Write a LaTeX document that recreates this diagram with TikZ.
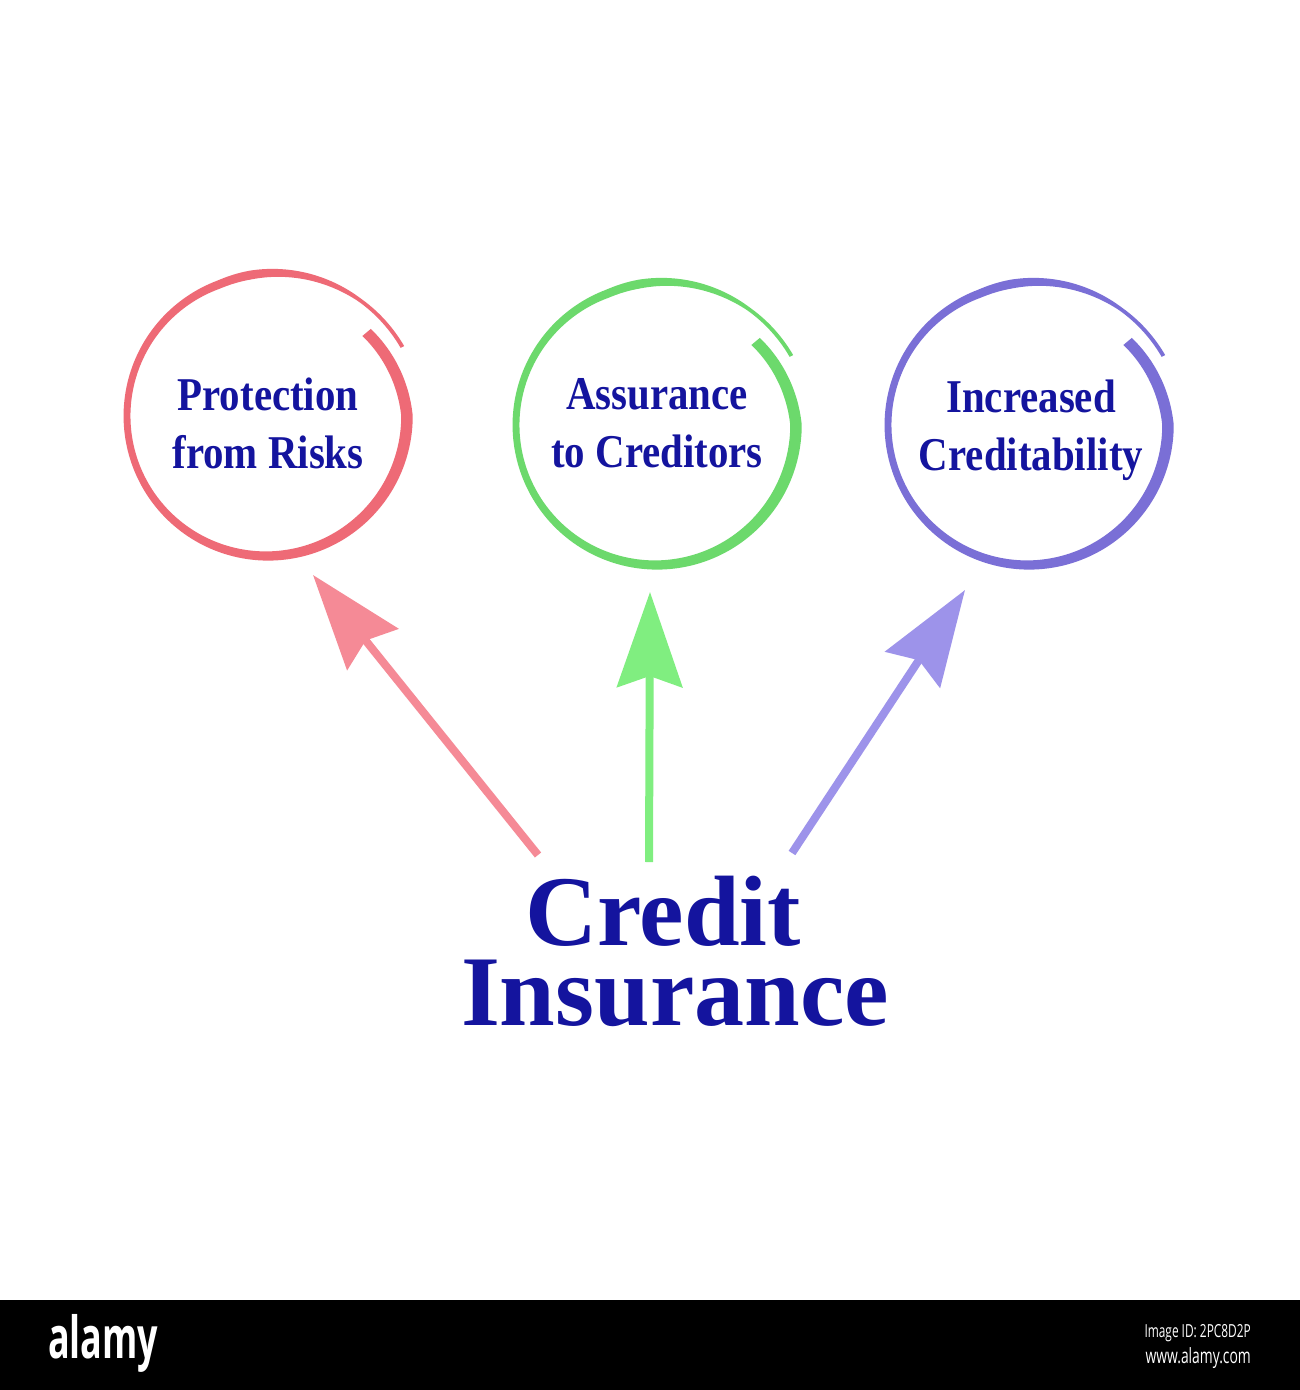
\documentclass[tikz,border=0pt]{standalone}
\usepackage{fontspec}
\setmainfont{Liberation Serif}
\newfontfamily\condserif[FakeStretch=0.87]{Liberation Serif}
\newfontfamily\logofont[FakeStretch=0.62]{Open Sans}
\newfontfamily\smallsans[FakeStretch=0.66]{Open Sans}
\usetikzlibrary{arrows.meta,calc}
\definecolor{txtblue}{RGB}{20,20,158}
\definecolor{ringred}{RGB}{238,106,118}
\definecolor{ringgreen}{RGB}{108,217,108}
\definecolor{ringblue}{RGB}{122,111,214}
\definecolor{arrred}{RGB}{245,138,150}
\definecolor{arrgreen}{RGB}{128,238,128}
\definecolor{arrblue}{RGB}{157,147,234}
\tikzset{
  declare function={
    rr(\t)=140-10*max(0,\t/40)+12*max(0,(-\t-250)/83);
    ww(\t)=(9.2+2.3*cos(\t))*min(1,max(0.35,(\t+333)/70));
  },
  ring/.pic={
    \fill[pic actions] plot[domain=40:-333,samples=220]
      ({(rr(\x)+ww(\x)/2)*cos(\x)},{-(rr(\x)+ww(\x)/2)*sin(\x)})
      -- plot[domain=-333:40,samples=220]
      ({(rr(\x)-ww(\x)/2)*cos(\x)},{-(rr(\x)-ww(\x)/2)*sin(\x)}) -- cycle;
  },
  itemtext/.style={text=txtblue, align=center, inner sep=0pt,
    font=\condserif\bfseries\fontsize{47}{58}\selectfont},
  bigarrow/.style={line width=8pt, -{Stealth[length=95pt,width=65pt,inset=11pt]}},
}
\begin{document}
\begin{tikzpicture}[x=1pt,y=-1pt]
\useasboundingbox (0,0) rectangle (1300,1390);
\fill[white] (0,0) rectangle (1300,1300);
\fill[black] (0,1300) rectangle (1300,1390);

% rings
\pic[fill=ringred] at (267,416) {ring};
\pic[fill=ringgreen] at (656,425) {ring};
\pic[fill=ringblue] at (1028,425) {ring};

% ring texts
\node[itemtext] (prot) at (268,423) {Protection\\from Risks};
\node[itemtext] (assu) at (657,423) {Assurance\\to Creditors};
\node[itemtext] (incr) at (1031,430) {Increased\\Creditability};

% title
\node[text=txtblue, align=center, inner sep=0pt,
  font=\bfseries\fontsize{100}{80}\selectfont] (title) at (675,951)
  {Credit\hspace*{24pt}\\Insurance};

% arrows
\coordinate (s1) at (538,855);
\coordinate (t1) at (313,575);
\coordinate (s2) at (649,862);
\coordinate (t2) at (650,592);
\coordinate (s3) at (792,853);
\coordinate (t3) at (965,590);
\draw[bigarrow, arrred] (s1) -- (t1);
\draw[bigarrow, arrgreen] (s2) -- (t2);
\draw[bigarrow, arrblue] (s3) -- (t3);

% footer
\node[text=white, anchor=west, inner sep=0pt,
  font=\logofont\bfseries\fontsize{58}{58}\selectfont] (logo) at (48,1343) {alamy};
\node[text=white, anchor=east, inner sep=0pt,
  font=\smallsans\fontsize{18}{18}\selectfont] (imgid) at (1251,1333) {Image ID: 2PC8D2P};
\node[text=white, anchor=east, inner sep=0pt,
  font=\smallsans\fontsize{21}{21}\selectfont] (www) at (1251,1358) {www.alamy.com};
\end{tikzpicture}
\end{document}
